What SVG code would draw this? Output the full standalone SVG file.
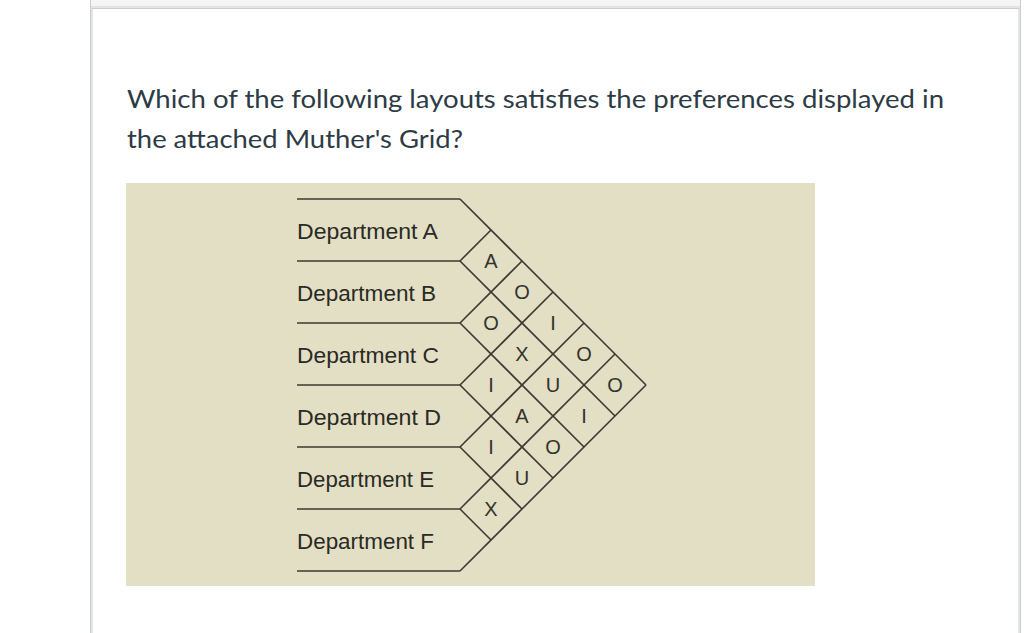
<svg xmlns="http://www.w3.org/2000/svg" width="1024" height="633" viewBox="0 0 1024 633">
<style>
.q{font-family:Lato,"Liberation Sans",sans-serif;font-size:25px;fill:#2d3b45}
.dep{font-family:"Liberation Sans",Arial,sans-serif;font-size:22px;fill:#2a2a24}
.cell{font-family:"Liberation Sans",Arial,sans-serif;font-size:20px;fill:#33332c;text-anchor:middle}
.ln{stroke:#3a3a32;stroke-width:1.6;fill:none}
.border{stroke:#c8cccf;stroke-width:1;fill:none}
</style>
<rect x="0" y="0" width="1024" height="633" fill="#ffffff"/>
<rect x="90" y="0" width="931" height="7" fill="#f4f4f4"/>
<g class="border">
<line x1="90.5" y1="0" x2="90.5" y2="633"/>
<line x1="92" y1="8" x2="92" y2="633"/>
<line x1="1020.5" y1="0" x2="1020.5" y2="633"/>
<line x1="1019" y1="8" x2="1019" y2="633"/>
<line x1="90" y1="7" x2="1021" y2="7"/>
<line x1="92" y1="8.5" x2="1019" y2="8.5"/>
</g>
<g id="question">
<text class="q" x="127" y="108" textLength="817" lengthAdjust="spacingAndGlyphs">Which of the following layouts satisfies the preferences displayed in</text>
<text class="q" x="127" y="148" textLength="336" lengthAdjust="spacingAndGlyphs">the attached Muther's Grid?</text>
</g>
<rect id="panel" x="126" y="183" width="689" height="403" fill="#e2dfc5"/>
<g id="connectors" class="ln">
<line x1="297" y1="199" x2="460" y2="199"/>
<line x1="297" y1="261" x2="460" y2="261"/>
<line x1="297" y1="323" x2="460" y2="323"/>
<line x1="297" y1="385" x2="460" y2="385"/>
<line x1="297" y1="447" x2="460" y2="447"/>
<line x1="297" y1="509" x2="460" y2="509"/>
<line x1="297" y1="571" x2="460" y2="571"/>
<line x1="460" y1="199" x2="646" y2="385"/>
<line x1="460" y1="261" x2="615" y2="416"/>
<line x1="460" y1="323" x2="584" y2="447"/>
<line x1="460" y1="385" x2="553" y2="478"/>
<line x1="460" y1="447" x2="522" y2="509"/>
<line x1="460" y1="509" x2="491" y2="540"/>
<line x1="460" y1="261" x2="491" y2="230"/>
<line x1="460" y1="323" x2="522" y2="261"/>
<line x1="460" y1="385" x2="553" y2="292"/>
<line x1="460" y1="447" x2="584" y2="323"/>
<line x1="460" y1="509" x2="615" y2="354"/>
<line x1="460" y1="571" x2="646" y2="385"/>
</g>
<g id="dept-a"><text class="dep" x="297" y="239" textLength="141" lengthAdjust="spacingAndGlyphs">Department A</text></g>
<g id="dept-b"><text class="dep" x="297" y="301" textLength="139" lengthAdjust="spacingAndGlyphs">Department B</text></g>
<g id="dept-c"><text class="dep" x="297" y="363" textLength="142" lengthAdjust="spacingAndGlyphs">Department C</text></g>
<g id="dept-d"><text class="dep" x="297" y="425" textLength="144" lengthAdjust="spacingAndGlyphs">Department D</text></g>
<g id="dept-e"><text class="dep" x="297" y="487" textLength="137" lengthAdjust="spacingAndGlyphs">Department E</text></g>
<g id="dept-f"><text class="dep" x="297" y="549" textLength="137" lengthAdjust="spacingAndGlyphs">Department F</text></g>
<g id="cells">
<text class="cell" x="491" y="268">A</text>
<text class="cell" x="522" y="299">O</text>
<text class="cell" x="553" y="330">I</text>
<text class="cell" x="584" y="361">O</text>
<text class="cell" x="615" y="392">O</text>
<text class="cell" x="491" y="330">O</text>
<text class="cell" x="522" y="361">X</text>
<text class="cell" x="553" y="392">U</text>
<text class="cell" x="584" y="423">I</text>
<text class="cell" x="491" y="392">I</text>
<text class="cell" x="522" y="423">A</text>
<text class="cell" x="553" y="454">O</text>
<text class="cell" x="491" y="454">I</text>
<text class="cell" x="522" y="485">U</text>
<text class="cell" x="491" y="516">X</text>
</g>
</svg>
